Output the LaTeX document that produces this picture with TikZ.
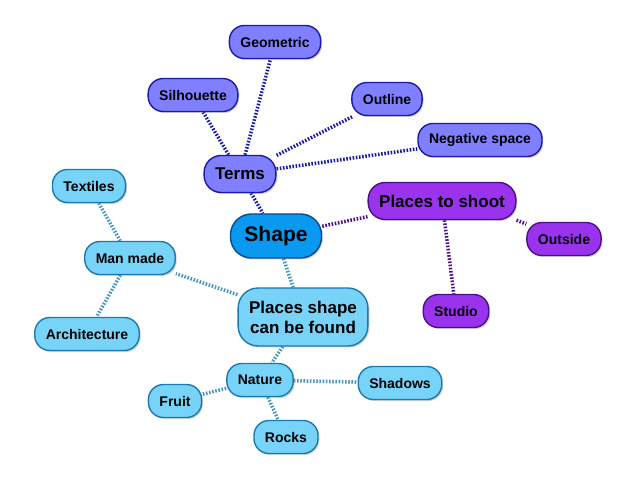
\documentclass[tikz,border=0pt]{standalone}
\usepackage{fontspec}
\setmainfont{Liberation Sans}
\usetikzlibrary{shadows}
\pgfdeclarelayer{bg}\pgfsetlayers{bg,main}
\definecolor{tf}{HTML}{7F7FFF}\definecolor{tb}{HTML}{1A1AA8}
\definecolor{sf}{HTML}{0A99F0}\definecolor{sb}{HTML}{0A4A8A}
\definecolor{pf}{HTML}{9933EE}\definecolor{pb}{HTML}{4A1088}
\definecolor{lf}{HTML}{77D4F8}\definecolor{lb}{HTML}{1A7AB0}
\tikzset{
 bub/.style={rounded corners=15pt,draw,line width=1.4pt,inner xsep=11pt,inner ysep=0pt,minimum height=33pt,align=center,drop shadow={shadow xshift=1.5pt,shadow yshift=-1.5pt,opacity=0.35}},
 tn/.style={bub,fill=tf,draw=tb,font=\bfseries\fontsize{14}{16}\selectfont},
 ln/.style={bub,fill=lf,draw=lb,font=\bfseries\fontsize{14}{16}\selectfont},
 pn/.style={bub,fill=pf,draw=pb,font=\bfseries\fontsize{14}{16}\selectfont},
 tl/.style={draw=tb,line width=3.5pt,dash pattern=on 1.6pt off 1.6pt},
 pl/.style={draw=pb,line width=3.5pt,dash pattern=on 1.6pt off 1.6pt},
 ll/.style={draw=lb!80,line width=3.5pt,dash pattern=on 1.6pt off 1.6pt},
}
\begin{document}
\begin{tikzpicture}[x=1pt,y=-1pt]
\useasboundingbox (0,0) rectangle (640,478);
\node[tn,rounded corners=17pt,minimum height=37pt,font=\bfseries\fontsize{17}{19}\selectfont] (terms) at (240,174) {Terms};
\node[tn] (geo) at (275,42) {Geometric};
\node[tn] (sil) at (193,95) {Silhouette};
\node[tn] (out) at (387,99) {Outline};
\node[tn] (neg) at (480,140) {Negative space};
\node[pn,rounded corners=17pt,minimum height=37pt,font=\bfseries\fontsize{17}{19}\selectfont] (pts) at (442,201) {Places to shoot};
\node[pn] (outs) at (564,239) {Outside};
\node[pn] (stu) at (456,311) {Studio};
\node[bub,fill=sf,draw=sb,rounded corners=21pt,minimum height=44pt,inner xsep=14pt,font=\bfseries\fontsize{21}{23}\selectfont] (shape) at (276,236) {Shape};
\node[ln,rounded corners=20pt,minimum height=58pt,font=\bfseries\fontsize{17}{20}\selectfont] (psc) at (303,317) {Places shape\\can be found};
\node[ln] (tex) at (89,186) {Textiles};
\node[ln] (man) at (130,258) {Man made};
\node[ln] (arch) at (87,334) {Architecture};
\node[ln] (nat) at (260,380) {Nature};
\node[ln] (sha) at (400,383) {Shadows};
\node[ln] (fru) at (175,401) {Fruit};
\node[ln] (roc) at (286,437) {Rocks};
\begin{pgfonlayer}{bg}
\draw[tl] (terms) -- (geo);
\draw[tl] (terms) -- (sil);
\draw[tl] (terms) -- (out);
\draw[tl] (terms) -- (neg);
\draw[tl] (terms) -- (shape);
\draw[pl] (shape) -- (pts);
\draw[pl] (pts.south east) -- (outs);
\draw[pl] (pts) -- (stu);
\draw[ll] (shape) -- (psc);
\draw[ll] (psc) -- (man);
\draw[ll] (man) -- (tex);
\draw[ll] (man) -- (arch);
\draw[ll] (psc) -- (nat);
\draw[ll] (nat) -- (sha);
\draw[ll] (nat) -- (fru);
\draw[ll] (nat) -- (roc);
\end{pgfonlayer}
\end{tikzpicture}
\end{document}
